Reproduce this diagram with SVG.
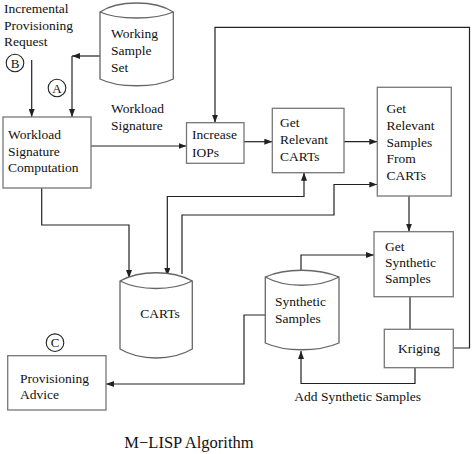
<svg xmlns="http://www.w3.org/2000/svg" width="474" height="454" viewBox="0 0 474 454" font-family="'Liberation Serif', 'Times New Roman', serif">
<defs>
<marker id="ah" viewBox="0 0 8 6" refX="8" refY="3" markerWidth="8" markerHeight="6" markerUnits="userSpaceOnUse" orient="auto">
<path d="M0,0 L8,3 L0,6 Z" fill="#222"/>
</marker>
<marker id="as" viewBox="0 0 8 6" refX="0" refY="3" markerWidth="8" markerHeight="6" markerUnits="userSpaceOnUse" orient="auto">
<path d="M8,0 L0,3 L8,6 Z" fill="#222"/>
</marker>
</defs>
<style>
text{font-family:'Liberation Serif','Times New Roman',serif;font-size:13.5px;fill:#111}
.box{fill:#fff;stroke:#777;stroke-width:1.3}
.cyl{fill:#fff;stroke:#666;stroke-width:1.3}
.in{fill:none;stroke:#666;stroke-width:1.3}
.ln{fill:none;stroke:#222;stroke-width:1.2}
.arr{marker-end:url(#ah)}
.circ{fill:#fff;stroke:#222;stroke-width:1.1}
.lt{font-size:13px}
</style>
<rect width="474" height="454" fill="#fff"/>

<g id="connectors">
<path class="ln arr" d="M31.7,60 V117"/>
<path class="ln arr" d="M100,56 H72"/>
<path class="ln arr" d="M72,56 V117"/>
<path class="ln arr" d="M91,146 H186.5"/>
<path class="ln arr" d="M244,141.7 H272.3"/>
<path class="ln arr" d="M344,141.7 H377.3"/>
<path class="ln arr" d="M454,348 H469.5 V27.3 H215 V122.7"/>
<path class="ln arr" d="M41.7,188 V225 H129 V278"/>
<path class="ln" d="M167.3,276 V196.5 H304 V172.7" style="marker-start:url(#as);marker-end:url(#ah)"/>
<path class="ln arr" d="M182,274 V215 H334 V184.5 H377.3"/>
<path class="ln arr" d="M409,196 V231.7"/>
<path class="ln arr" d="M301,272 V255 H374"/>
<path class="ln" d="M410,296.7 V329.3"/>
<path class="ln arr" d="M415,367.7 V383.5 H301 V351"/>
<path class="ln arr" d="M265.5,315 H244 V384 H106"/>
</g>

<g id="incremental-request">
<text x="4" y="13">Incremental</text>
<text x="4" y="29.5">Provisioning</text>
<text x="4" y="46">Request</text>
</g>
<g id="circle-b"><circle class="circ" cx="15" cy="63" r="8.8"/><text class="lt" x="15" y="67.6" text-anchor="middle">B</text></g>
<g id="circle-a"><circle class="circ" cx="57" cy="88" r="8.8"/><text class="lt" x="57" y="92.6" text-anchor="middle">A</text></g>
<g id="circle-c"><circle class="circ" cx="55" cy="342.7" r="8.8"/><text class="lt" x="55" y="347.3" text-anchor="middle">C</text></g>

<g id="working-sample-set">
<path class="cyl" d="M100,12 C118,0 155,0 173.3,12 L173.3,79 C155,88 118,88 100,79 Z"/>
<path class="in" d="M100,12 C118,20 155,20 173.3,12"/>
<text x="111" y="38">Working</text>
<text x="111" y="55">Sample</text>
<text x="111" y="72">Set</text>
</g>

<g id="workload-signature-label">
<text x="111" y="113">Workload</text>
<text x="111" y="130">Signature</text>
</g>

<g id="workload-signature-computation">
<rect class="box" x="3" y="117" width="88" height="71"/>
<text x="8" y="139">Workload</text>
<text x="8" y="155.5">Signature</text>
<text x="8" y="172">Computation</text>
</g>

<g id="increase-iops">
<rect class="box" x="186.5" y="122.7" width="57.5" height="40.6"/>
<text x="192" y="139">Increase</text>
<text x="192" y="157">IOPs</text>
</g>

<g id="get-relevant-carts">
<rect class="box" x="272.3" y="108.3" width="71.7" height="64.4"/>
<text x="280" y="127">Get</text>
<text x="280" y="144">Relevant</text>
<text x="280" y="161">CARTs</text>
</g>

<g id="get-relevant-samples">
<rect class="box" x="377.3" y="87.3" width="74" height="108.7"/>
<text x="386.5" y="112.7">Get</text>
<text x="386.5" y="129.5">Relevant</text>
<text x="386.5" y="146.5">Samples</text>
<text x="386.5" y="163.3">From</text>
<text x="386.5" y="180">CARTs</text>
</g>

<g id="carts">
<path class="cyl" d="M120,281 C140,270 172,270 192.3,281 L192.3,349 C172,361 140,361 120,349 Z"/>
<path class="in" d="M120,281 C140,291 172,291 192.3,281"/>
<text x="160" y="318.3" text-anchor="middle">CARTs</text>
</g>

<g id="synthetic-samples">
<path class="cyl" d="M265.3,277 C285,268 318,268 339,277 L339,343 C318,352 285,352 265.3,343 Z"/>
<path class="in" d="M265.3,277 C285,288 318,288 339,277"/>
<text x="275" y="306">Synthetic</text>
<text x="275" y="322.7">Samples</text>
</g>

<g id="get-synthetic-samples">
<rect class="box" x="374" y="231.7" width="79.3" height="65"/>
<text x="385" y="250.7">Get</text>
<text x="385" y="267">Synthetic</text>
<text x="385" y="283.3">Samples</text>
</g>

<g id="kriging">
<rect class="box" x="384.3" y="329.3" width="69" height="38.4"/>
<text x="419" y="353.3" text-anchor="middle">Kriging</text>
</g>

<g id="add-synthetic-label">
<text x="294.3" y="400.7">Add Synthetic Samples</text>
</g>

<g id="provisioning-advice">
<rect class="box" x="7.7" y="355.7" width="98.3" height="54.3"/>
<text x="20" y="382.7">Provisioning</text>
<text x="20" y="398.5">Advice</text>
</g>

<g id="title">
<text x="189" y="448.3" text-anchor="middle" style="font-size:16.5px">M−LISP Algorithm</text>
</g>
</svg>
